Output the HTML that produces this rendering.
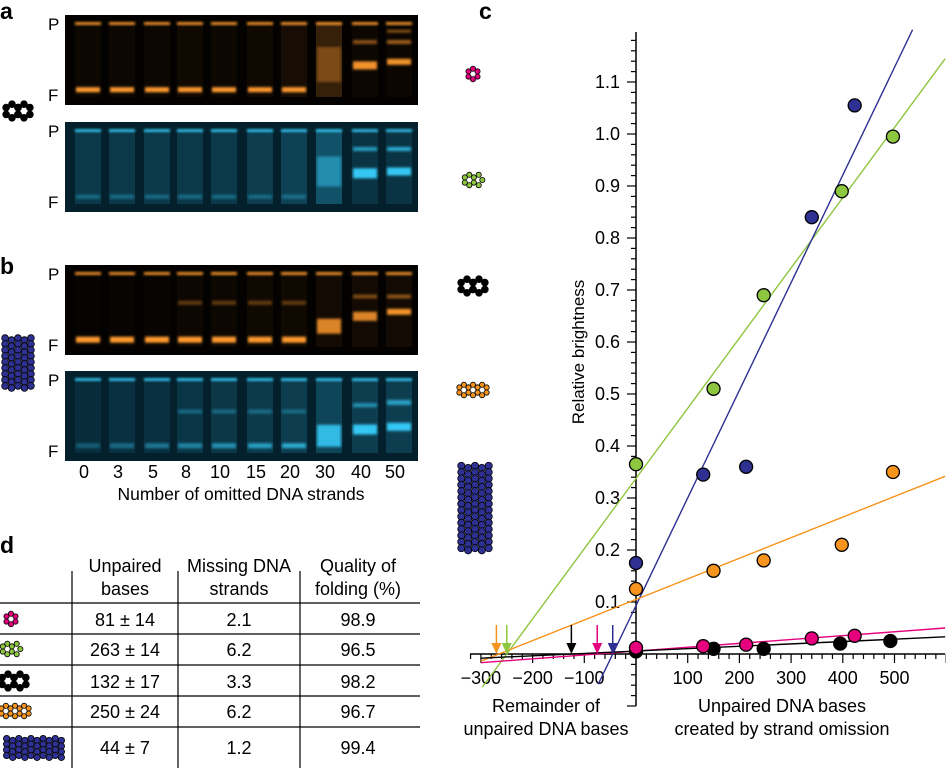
<!DOCTYPE html>
<html><head><meta charset="utf-8"><style>
html,body{margin:0;padding:0;background:#fff;}
svg{display:block;font-family:"Liberation Sans",Arial,sans-serif;}
</style></head><body>
<svg id="fig" width="946" height="768" viewBox="0 0 946 768">
<defs>
<filter id="blur1" x="-20%" y="-50%" width="140%" height="200%"><feGaussianBlur stdDeviation="1.2"/></filter>
</defs>
<g id="gels"></g>
<g id="icons"></g>
<g id="table"></g>
<g id="chart"></g>
</svg>
<script>
// ---------- chart data ----------
const seriesNames = ['green','blue','orange','pink','black'];
const seriesColors = {green:'#8dc63f',blue:'#2e3192',orange:'#f7941d',pink:'#e6007e',black:'#000000'};
const greenX = [0,150,247,398,497];
const greenY = [0.365,0.51,0.69,0.89,0.995];
const blueX = [0,130,213,340,423];
const blueY = [0.175,0.345,0.36,0.84,1.055];
const orangeX = [0,150,247,398,497];
const orangeY = [0.125,0.16,0.18,0.21,0.35];
const pinkX = [0,130,213,340,423];
const pinkY = [0.012,0.015,0.018,0.03,0.035];
const blackX = [0,150,247,395,492];
const blackY = [0.005,0.01,0.01,0.02,0.025];
// fit lines: x-intercept (remainder of unpaired bases) and slope
const lineIntercept = {green:-250,blue:-45,orange:-265,pink:-75,black:-125};
const lineSlope = {green:0.00135,blue:0.00207,orange:0.000396,pink:0.0000743,black:0.0000456};
const lineRange = {green:[-297,598],blue:[-73,535],orange:[-300,598],pink:[-300,598],black:[-300,598]};
const arrowX = {orange:-270,green:-250,black:-125,pink:-75,blue:-45};
const xTickLabels = [-300,-200,-100,100,200,300,400,500];
const yTickLabels = ['0.1','0.2','0.3','0.4','0.5','0.6','0.7','0.8','0.9','1.0','1.1'];
// table data
const tableRows = ['pink','green','black','orange','blue'];
const unpairedBases = ['81 ± 14','263 ± 14','132 ± 17','250 ± 24','44 ± 7'];
const missingStrands = ['2.1','6.2','3.3','6.2','1.2'];
const qualityFolding = ['98.9','96.5','98.2','96.7','99.4'];
const laneLabels = ['0','3','5','8','10','15','20','30','40','50'];

const NS='http://www.w3.org/2000/svg';
function mk(parent,tag,attrs,text){const e=document.createElementNS(NS,tag);for(const k in attrs)e.setAttribute(k,attrs[k]);if(text!==undefined)e.textContent=text;parent.appendChild(e);return e;}

const xs = v => 636 + v*0.517;
const ys = v => 654 - v*520;
const FS = 18;

// ---------- chart ----------
const ch=document.getElementById('chart');
let t=mk(ch,'text',{x:479,y:19,'font-size':23,'font-weight':'bold'},'c');


let ax=mk(ch,'line',{x1:636,y1:32,x2:636,y2:706,stroke:'#000','stroke-width':1.5});


ax=mk(ch,'line',{x1:470,y1:654,x2:945,y2:654,stroke:'#000','stroke-width':1.5});


for(let i=-5;i<=59;i++){const v=i*0.02;const y=ys(v);const major=(i%5===0);mk(ch,'line',{x1:636-(major?9:5),y1:y,x2:636,y2:y,stroke:'#000','stroke-width':1.2});}
yTickLabels.forEach(s=>{const e=mk(ch,'text',{x:620,y:ys(parseFloat(s))+6,'font-size':FS,'text-anchor':'end'},s);

});
for(let i=-16;i<=30;i++){const v=i*20;if(v===0)continue;const x=xs(v);const major=(v%100===0);mk(ch,'line',{x1:x,y1:654,x2:x,y2:654+(major?9:5),stroke:'#000','stroke-width':1.2});}
xTickLabels.forEach(v=>{const e=mk(ch,'text',{x:xs(v),y:684,'font-size':FS,'text-anchor':'middle'},(v<0?'\u2212'+(-v):String(v)));

});
t=mk(ch,'text',{x:0,y:0,'font-size':17,'text-anchor':'middle',transform:'translate(584,352) rotate(-90)'},'Relative brightness');


[['Remainder of',546,712],['unpaired DNA bases',546,735],['Unpaired DNA bases',782,712],['created by strand omission',782,735]].forEach(a=>{const e=mk(ch,'text',{x:a[1],y:a[2],'font-size':FS,'text-anchor':'middle'},a[0]);

});
// lines
seriesNames.forEach(n=>{const [a,b]=lineRange[n];const f=v=>lineSlope[n]*(v-lineIntercept[n]);
const l=mk(ch,'line',{x1:xs(a),y1:ys(f(a)),x2:xs(b),y2:ys(f(b)),stroke:seriesColors[n],'stroke-width':1.4});

});
// arrows
Object.keys(arrowX).forEach(n=>{const x=xs(arrowX[n]);const g=mk(ch,'g',{});


mk(g,'line',{x1:x,y1:625,x2:x,y2:646,stroke:seriesColors[n],'stroke-width':1.5});
mk(g,'polygon',{points:`${x-5},643 ${x+5},643 ${x},654`,fill:seriesColors[n]});});
// points
const pts={green:[greenX,greenY],blue:[blueX,blueY],orange:[orangeX,orangeY],pink:[pinkX,pinkY],black:[blackX,blackY]};
['black','pink','orange','blue','green'].forEach(n=>{const [X,Y]=pts[n];X.forEach((xv,i)=>{const c=mk(ch,'circle',{cx:xs(xv),cy:ys(Y[i]),r:6.5,fill:seriesColors[n],stroke:'#000','stroke-width':1.3});

});});

// ---------- icons ----------
const ic=document.getElementById('icons');
function icon(type,cx,cy,r,cols,rows){const g=mk(ic,'g',{});


const col=seriesColors[type];let c=[];const d=2*r;
const ring=(ox,oy)=>{for(let k=0;k<6;k++){const a=Math.PI/6+k*Math.PI/3;c.push([ox+d*Math.cos(a),oy+d*Math.sin(a)]);}};
if(type==='pink'){ring(0,0);}
else if(type==='green'){ring(-d*0.9,0);c.push([d*0.9,-d*1.0],[d*0.9,d*1.0],[d*1.6,0]);}
else if(type==='black'){ring(-d*0.88,0);ring(d*0.88,0);}
else if(type==='orange'){ring(-d*1.75,0);ring(0,0);ring(d*1.75,0);}
else if(type==='blue'){for(let i=0;i<cols;i++)for(let j=0;j<rows;j++){c.push([i*d*0.95-(cols-1)*d*0.475,j*d*0.88-(rows-1)*d*0.44+(i%2?d*0.3:0)]);}}
c.forEach(p=>mk(g,'circle',{cx:cx+p[0],cy:cy+p[1],r:r,fill:col,stroke:'#000','stroke-width':0.8}));}
icon('pink',473,74,2.6);icon('green',474,180,2.6);icon('black',473,286,3.4);icon('orange',473,390,2.6);icon('blue',475,507,3.6,5,14);
icon('black',18,111,3.4);icon('blue',18,362,3.4,5,9);
const tableY=[619,649,681,711,747];
icon('pink',11,tableY[0],2.6);icon('green',12,tableY[1],2.6);icon('black',14,tableY[2],3.4);icon('orange',15,tableY[3],2.6);icon('blue',34,tableY[4],3.2,10,4);

// ---------- table ----------
const tb=document.getElementById('table');
t=mk(tb,'text',{x:0,y:553,'font-size':23,'font-weight':'bold'},'d');


[[125,'Unpaired','bases'],[239,'Missing DNA','strands'],[358,'Quality of','folding (%)']].forEach(h=>{const e=mk(tb,'text',{x:h[0],y:572,'font-size':FS,'text-anchor':'middle'},h[1]);


mk(tb,'text',{x:h[0],y:595,'font-size':FS,'text-anchor':'middle'},h[2]);});
[72,178,300].forEach(x=>mk(tb,'line',{x1:x,y1:571,x2:x,y2:768,stroke:'#000','stroke-width':1.2}));
[603,634,665,696,727].forEach(y=>mk(tb,'line',{x1:0,y1:y,x2:420,y2:y,stroke:'#000','stroke-width':1.2}));
tableRows.forEach((n,i)=>{const y=tableY[i]+7;
let e=mk(tb,'text',{x:125,y:y,'font-size':FS,'text-anchor':'middle'},unpairedBases[i]);


e=mk(tb,'text',{x:239,y:y,'font-size':FS,'text-anchor':'middle'},missingStrands[i]);


e=mk(tb,'text',{x:358,y:y,'font-size':FS,'text-anchor':'middle'},qualityFolding[i]);

});

// ---------- gels ----------
const gl=document.getElementById('gels');
const laneX=[88,122,157,190,224,260,294,329,365,399];
t=mk(gl,'text',{x:0,y:19,'font-size':23,'font-weight':'bold'},'a');


t=mk(gl,'text',{x:0,y:274,'font-size':23,'font-weight':'bold'},'b');


function gel(y0,kind,bands,smear){const g=mk(gl,'g',{});


const h=90;const bg=kind==='orange'?'#040200':'#04202c';const c=kind==='orange'?'#ff9a2e':'#36c8f4';
mk(g,'rect',{x:65,y:y0,width:353,height:h,fill:bg});
laneX.forEach((x,i)=>{mk(g,'rect',{x:x-13,y:y0+8,width:26,height:h-16,fill:c,opacity:smear[i]});
mk(g,'rect',{x:x-13,y:y0+7,width:26,height:3,fill:c,opacity:0.9,filter:'url(#blur1)'});});
bands.forEach(b=>{const x=laneX[b[0]];mk(g,'rect',{x:x-12,y:y0+b[1]*h-b[3]/2,width:24,height:b[3],fill:c,opacity:b[2],filter:'url(#blur1)'});});
mk(g,'text',{x:48,y:y0+15,'font-size':17},'P');mk(g,'text',{x:48,y:y0+h-4,'font-size':17},'F');}
const aO=[],aB=[],bO=[],bB=[];
for(let i=0;i<7;i++){aO.push([i,0.83,1,5]);aB.push([i,0.83,0.35,4]);bO.push([i,0.83,1,6]);bB.push([i,0.83,0.3+i*0.08,5]);}
aO.push([7,0.55,0.35,35]);aO.push([8,0.56,0.95,8],[8,0.3,0.5,4]);aO.push([9,0.52,0.95,6],[9,0.3,0.6,4],[9,0.18,0.5,3]);
aB.push([7,0.55,0.5,30]);aB.push([8,0.57,1,10],[8,0.3,0.7,4]);aB.push([9,0.55,1,8],[9,0.3,0.8,4]);
for(let i=3;i<7;i++){bO.push([i,0.42,0.35,4]);bB.push([i,0.45,0.35,4]);}
bO.push([7,0.68,0.85,15]);bO.push([8,0.57,0.85,9],[8,0.35,0.45,4]);bO.push([9,0.52,0.95,6],[9,0.35,0.5,4]);
bB.push([7,0.72,0.9,22]);bB.push([8,0.65,1,10],[8,0.38,0.6,4]);bB.push([9,0.62,1,8],[9,0.35,0.7,5]);
gel(15,'orange',aO,[0.04,0.04,0.04,0.05,0.04,0.05,0.08,0.2,0.04,0.03]);
gel(122,'blue',aB,[0.15,0.15,0.15,0.15,0.15,0.17,0.2,0.3,0.12,0.12]);
gel(265,'orange',bO,[0.01,0.02,0.02,0.04,0.04,0.05,0.05,0.06,0.06,0.06]);
gel(371,'blue',bB,[0.08,0.1,0.1,0.13,0.14,0.16,0.17,0.22,0.18,0.18]);
laneLabels.forEach((s,i)=>{const e=mk(gl,'text',{x:laneX[i]-4,y:478,'font-size':FS,'text-anchor':'middle'},s);

});
t=mk(gl,'text',{x:241,y:500,'font-size':17.5,'text-anchor':'middle'},'Number of omitted DNA strands');


</script>
</body></html>
